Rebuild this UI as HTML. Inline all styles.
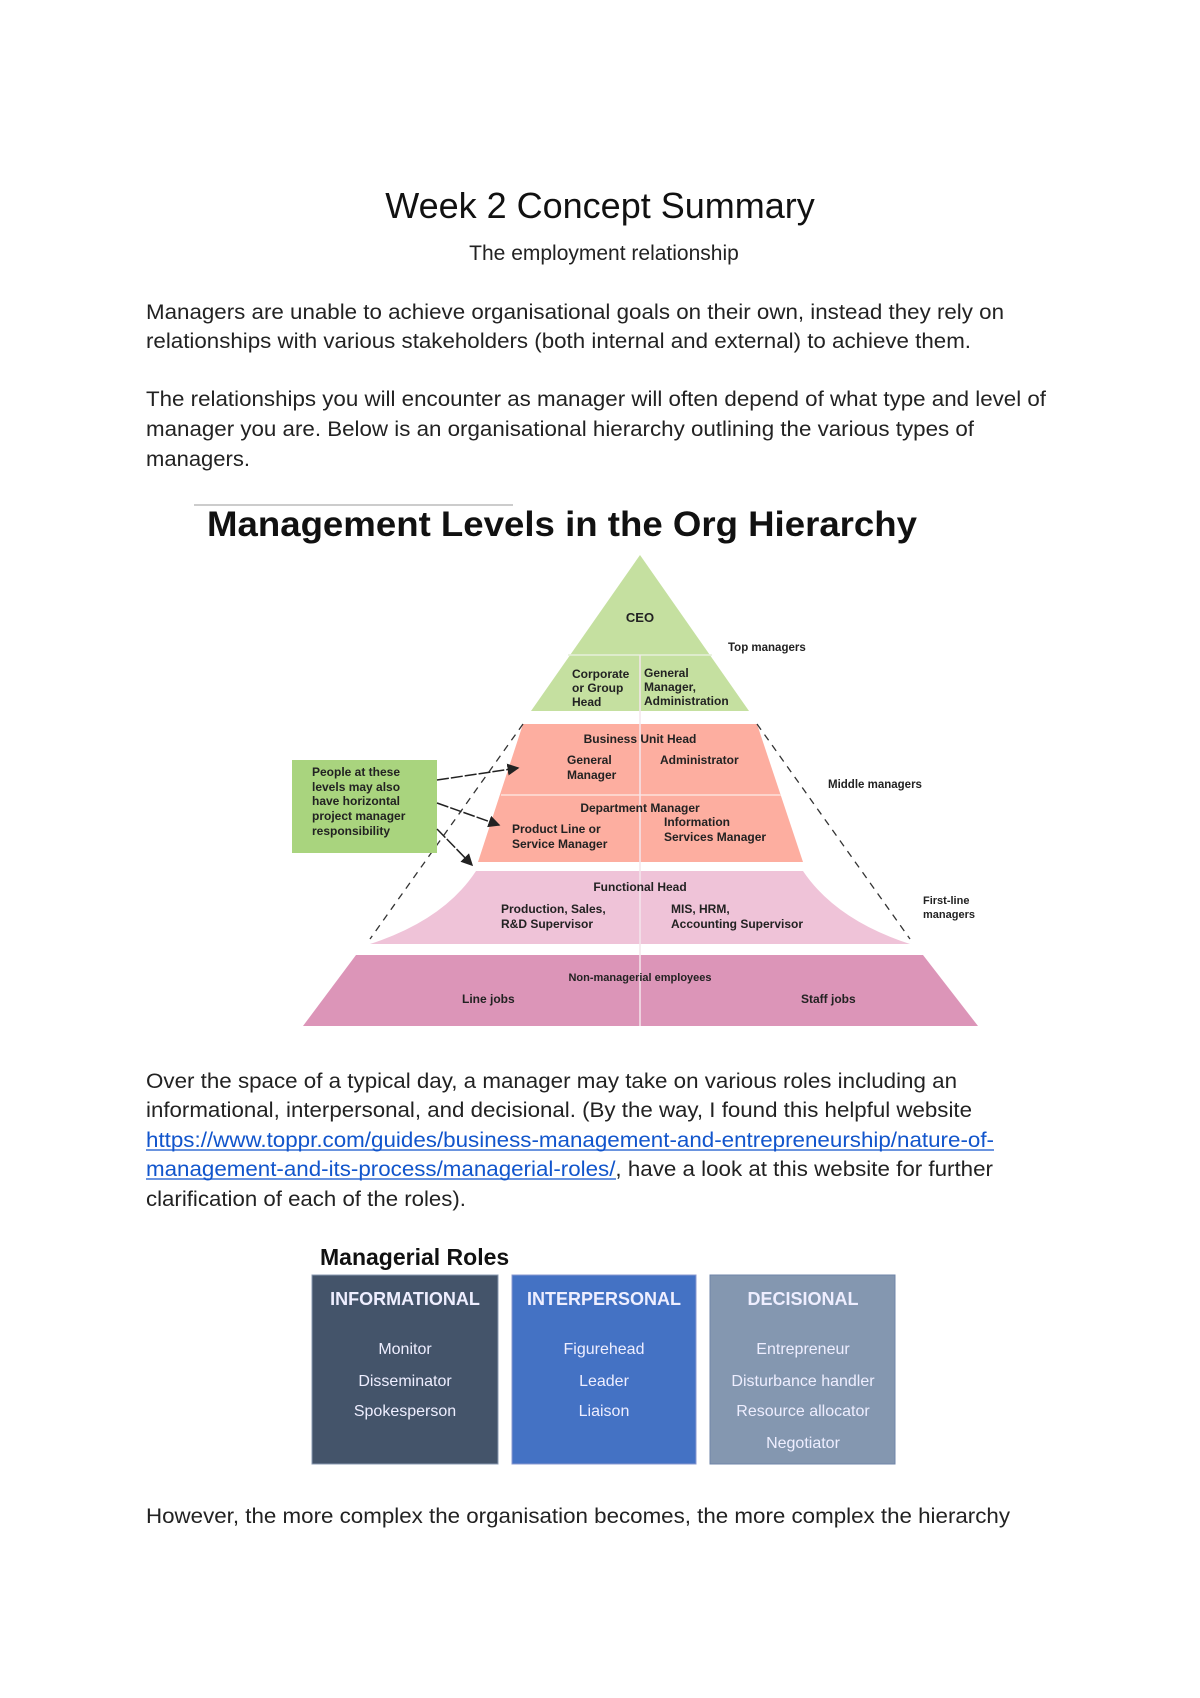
<!DOCTYPE html>
<html><head><meta charset="utf-8"><style>
html,body{margin:0;padding:0;background:#fff;}
svg{display:block;}
.b{font-family:"Liberation Sans",sans-serif;font-size:21px;fill:#222;}
.p{font-family:"Liberation Sans",sans-serif;font-size:12px;font-weight:bold;fill:#222;}
.w{font-family:"Liberation Sans",sans-serif;fill:#eef;font-size:16px;text-anchor:middle;}
</style></head><body>
<svg width="1200" height="1698" viewBox="0 0 1200 1698" xmlns="http://www.w3.org/2000/svg">
<text x="600" y="218" text-anchor="middle" font-family="Liberation Sans,sans-serif" font-size="36" fill="#111">Week 2 Concept Summary</text>
<text x="604" y="260" text-anchor="middle" class="b" font-size="20">The employment relationship</text>
<text class="b" x="146" y="319" textLength="858" lengthAdjust="spacingAndGlyphs">Managers are unable to achieve organisational goals on their own, instead they rely on</text>
<text class="b" x="146" y="348" textLength="825" lengthAdjust="spacingAndGlyphs">relationships with various stakeholders (both internal and external) to achieve them.</text>
<text class="b" x="146" y="406" textLength="900" lengthAdjust="spacingAndGlyphs">The relationships you will encounter as manager will often depend of what type and level of</text>
<text class="b" x="146" y="436" textLength="828" lengthAdjust="spacingAndGlyphs">manager you are. Below is an organisational hierarchy outlining the various types of</text>
<text class="b" x="146" y="466" textLength="104" lengthAdjust="spacingAndGlyphs">managers.</text>

<line x1="194" y1="505" x2="513" y2="505" stroke="#ccc" stroke-width="2"/>
<text x="207" y="536" font-family="Liberation Sans,sans-serif" font-weight="bold" font-size="35" fill="#111" textLength="710" lengthAdjust="spacingAndGlyphs">Management Levels in the Org Hierarchy</text>

<g transform="translate(-4,-5)">
<polygon points="644,560 535,716 753,716" fill="#c5e0a0"/>
<line x1="572" y1="660" x2="716" y2="660" stroke="#e6f0da" stroke-width="1.5"/>
<polygon points="527,729 761,729 807,867 482,867" fill="#fdaea0"/>
<line x1="505" y1="800" x2="785" y2="800" stroke="#fde0da" stroke-width="1.5"/>
<path d="M480,876 L807,876 Q840,925 914,949 L374,949 Q448,925 480,876Z" fill="#efc3d8"/>
<polygon points="360,960 927,960 982,1031 307,1031" fill="#dc95b8"/>
<line x1="644" y1="660" x2="644" y2="1031" stroke="#f4e6ec" stroke-width="1.5"/>
<line x1="527" y1="729" x2="374" y2="944" stroke="#333" stroke-width="1.3" stroke-dasharray="7,6"/>
<line x1="761" y1="729" x2="914" y2="944" stroke="#333" stroke-width="1.3" stroke-dasharray="7,6"/>

<rect x="296" y="765" width="145" height="93" fill="#a9d47e"/>
<g class="p" font-size="11.5">
<text x="316" y="781">People at these</text><text x="316" y="796">levels may also</text><text x="316" y="810">have horizontal</text><text x="316" y="825">project manager</text><text x="316" y="840">responsibility</text>
</g>
<defs><marker id="a" markerWidth="8" markerHeight="8" refX="7" refY="4" orient="auto"><path d="M0,0 L8,4 L0,8Z" fill="#222"/></marker></defs>
<g stroke="#222" stroke-width="1.5" marker-end="url(#a)" stroke-dasharray="12,2">
<line x1="441" y1="785" x2="522" y2="773"/>
<line x1="441" y1="808" x2="503" y2="830"/>
<line x1="441" y1="834" x2="476" y2="870"/>
</g>

<g class="p">
<text x="644" y="627" text-anchor="middle" font-size="13">CEO</text>
<text x="576" y="683">Corporate</text><text x="576" y="697">or Group</text><text x="576" y="711">Head</text>
<text x="648" y="682">General</text><text x="648" y="696">Manager,</text><text x="648" y="710">Administration</text>
<text x="644" y="748" text-anchor="middle">Business Unit Head</text>
<text x="571" y="769">General</text><text x="571" y="784">Manager</text>
<text x="664" y="769">Administrator</text>
<text x="644" y="817" text-anchor="middle">Department Manager</text>
<text x="516" y="838">Product Line or</text><text x="516" y="853">Service Manager</text>
<text x="668" y="831">Information</text><text x="668" y="846">Services Manager</text>
<text x="644" y="896" text-anchor="middle">Functional Head</text>
<text x="505" y="918">Production, Sales,</text><text x="505" y="933">R&amp;D Supervisor</text>
<text x="675" y="918">MIS, HRM,</text><text x="675" y="933">Accounting Supervisor</text>
<text x="644" y="986" text-anchor="middle" font-size="11">Non-managerial employees</text>
<text x="466" y="1008">Line jobs</text>
<text x="805" y="1008">Staff jobs</text>
<text x="732" y="656" font-size="11.5">Top managers</text>
<text x="832" y="793" font-size="11.5">Middle managers</text>
<text x="927" y="909" font-size="11">First-line</text><text x="927" y="923" font-size="11">managers</text>
</g>
</g>

<g transform="translate(0,-8)">
<text class="b" x="146" y="1096" textLength="811" lengthAdjust="spacingAndGlyphs">Over the space of a typical day, a manager may take on various roles including an</text>
<text class="b" x="146" y="1125" textLength="826" lengthAdjust="spacingAndGlyphs">informational, interpersonal, and decisional. (By the way, I found this helpful website</text>
<text class="b" x="146" y="1155" textLength="848" lengthAdjust="spacingAndGlyphs" style="fill:#1155cc">https://www.toppr.com/guides/business-management-and-entrepreneurship/nature-of-</text>
<line x1="146" y1="1158" x2="994" y2="1158" stroke="#1155cc" stroke-width="1.3"/>
<text class="b" x="146" y="1184" textLength="847" lengthAdjust="spacingAndGlyphs"><tspan style="fill:#1155cc">management-and-its-process/managerial-roles/</tspan>, have a look at this website for further</text>
<line x1="146" y1="1187" x2="616" y2="1187" stroke="#1155cc" stroke-width="1.3"/>
<text class="b" x="146" y="1214" textLength="320" lengthAdjust="spacingAndGlyphs">clarification of each of the roles).</text>
</g>

<g transform="translate(-2,-8)">
<text x="322" y="1273" font-family="Liberation Sans,sans-serif" font-weight="bold" font-size="23" fill="#111">Managerial Roles</text>
<rect x="314" y="1283" width="186" height="189" fill="#44546a" stroke="#8898b0"/>
<rect x="514" y="1283" width="184" height="189" fill="#4472c4" stroke="#8898d0"/>
<rect x="712" y="1283" width="185" height="189" fill="#8497b0" stroke="#6f84a8"/>
<g class="w">
<text x="407" y="1313" font-weight="bold" font-size="18">INFORMATIONAL</text>
<text x="407" y="1362">Monitor</text><text x="407" y="1394">Disseminator</text><text x="407" y="1424">Spokesperson</text>
<text x="606" y="1313" font-weight="bold" font-size="18">INTERPERSONAL</text>
<text x="606" y="1362">Figurehead</text><text x="606" y="1394">Leader</text><text x="606" y="1424">Liaison</text>
<text x="805" y="1313" font-weight="bold" font-size="18">DECISIONAL</text>
<text x="805" y="1362">Entrepreneur</text><text x="805" y="1394">Disturbance handler</text><text x="805" y="1424">Resource allocator</text><text x="805" y="1456">Negotiator</text>
</g>
</g>

<text class="b" x="146" y="1523" textLength="864" lengthAdjust="spacingAndGlyphs">However, the more complex the organisation becomes, the more complex the hierarchy</text>
</svg>
</body></html>
